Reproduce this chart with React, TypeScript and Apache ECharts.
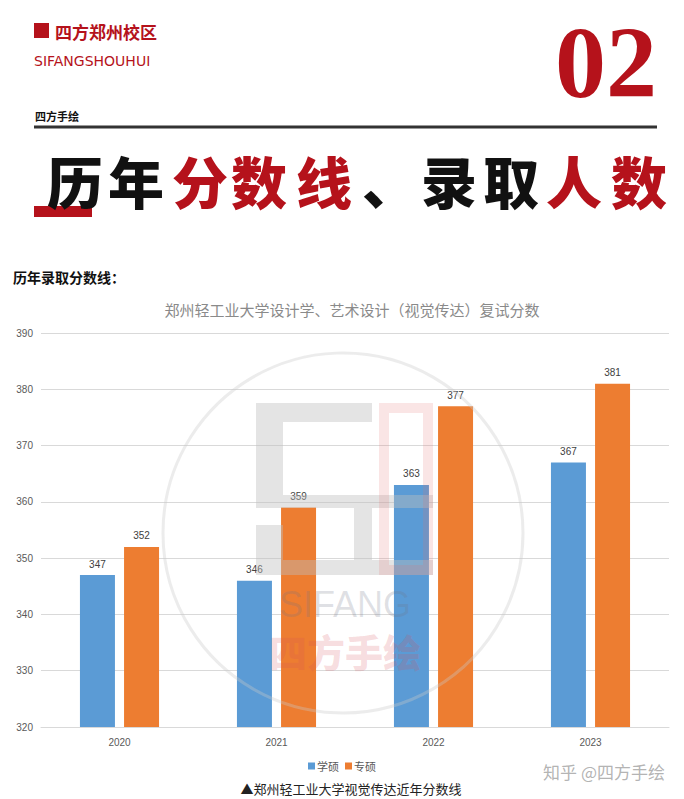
import React, { useEffect, useRef } from "react";
import * as echarts from "echarts";

const years = ["2020", "2021", "2022", "2023"];
const academic = [347, 346, 363, 367];
const professional = [352, 359, 377, 381];
const seriesNames = ["学硕", "专硕"];
const chartTitle = "郑州轻工业大学设计学、艺术设计（视觉传达）复试分数";
const caption = "▲郑州轻工业大学视觉传达近年分数线";
const sectionLabel = "历年录取分数线：";
const headline = [
  { ch: "历", red: false },
  { ch: "年", red: false },
  { ch: "分", red: true },
  { ch: "数", red: true },
  { ch: "线", red: true },
  { ch: "、", red: false },
  { ch: "录", red: false },
  { ch: "取", red: false },
  { ch: "人", red: true },
  { ch: "数", red: true },
];
const headlineX = [75, 136, 200, 259, 324, 390, 449, 511, 574, 639];

const RED = "#b5121b";
const CJK = "'Noto Sans CJK SC', 'Noto Sans', sans-serif";

export default function App() {
  const ref = useRef<HTMLDivElement>(null);
  useEffect(() => {
    document.body.style.margin = "0";
    const chart = echarts.init(ref.current!, null, { renderer: "svg" });
    const wmGray = "rgba(190,190,190,0.42)";
    const wmPink = "rgba(225,110,110,0.18)";
    const graphic: any[] = [
      // header
      { type: "rect", shape: { x: 34, y: 23, width: 15, height: 15 }, style: { fill: RED } },
      { type: "text", x: 55, y: 31, style: { text: "四方郑州校区", fill: RED, font: `bold 17px ${CJK}`, textVerticalAlign: "middle" } },
      { type: "text", x: 34, y: 61, style: { text: "SIFANGSHOUHUI", fill: RED, font: "14px 'DejaVu Sans', sans-serif", textVerticalAlign: "middle" } },
      { type: "text", x: 657, y: 62, style: { text: "02", fill: RED, font: "bold 102px 'Liberation Serif', serif", textAlign: "right", textVerticalAlign: "middle" } },
      { type: "text", x: 35, y: 116, style: { text: "四方手绘", fill: "#111", font: `bold 11px ${CJK}`, textVerticalAlign: "middle" } },
      { type: "rect", shape: { x: 34, y: 125.5, width: 623, height: 3 }, style: { fill: "#333" } },
      { type: "rect", shape: { x: 34, y: 206, width: 58, height: 11 }, style: { fill: RED } },
      ...headline.map((h, i) => ({
        type: "text",
        x: headlineX[i],
        y: 179,
        style: {
          text: h.ch,
          fill: h.red ? RED : "#111",
          font: `900 56px ${CJK}`,
          textAlign: "center",
          textVerticalAlign: "middle",
        },
      })),
      { type: "text", x: 13, y: 277, style: { text: sectionLabel, fill: "#111", font: `bold 14px ${CJK}`, textVerticalAlign: "middle" } },
      // watermark
      { type: "circle", z: 100, shape: { cx: 343, cy: 533, r: 180 }, style: { fill: "none", stroke: "rgba(200,200,200,0.35)", lineWidth: 3 } },
      { type: "rect", z: 100, shape: { x: 256, y: 403, width: 116, height: 19 }, style: { fill: wmGray } },
      { type: "rect", z: 100, shape: { x: 256, y: 422, width: 27, height: 73 }, style: { fill: wmGray } },
      { type: "rect", z: 100, shape: { x: 256, y: 495, width: 177, height: 13 }, style: { fill: wmGray } },
      { type: "rect", z: 100, shape: { x: 354, y: 508, width: 18, height: 52 }, style: { fill: wmGray } },
      { type: "rect", z: 100, shape: { x: 256, y: 525, width: 27, height: 35 }, style: { fill: wmGray } },
      { type: "rect", z: 100, shape: { x: 256, y: 560, width: 177, height: 15 }, style: { fill: wmGray } },
      { type: "rect", z: 100, shape: { x: 384, y: 408, width: 44, height: 162 }, style: { fill: "none", stroke: wmPink, lineWidth: 10 } },
      { type: "text", z: 100, x: 345, y: 604, style: { text: "SIFANG", fill: "rgba(110,115,135,0.22)", font: "36px 'Liberation Sans', sans-serif", textAlign: "center", textVerticalAlign: "middle" } },
      { type: "text", z: 100, x: 345, y: 650, style: { text: "四方手绘", fill: "rgba(215,80,90,0.2)", font: `900 38px ${CJK}`, textAlign: "center", textVerticalAlign: "middle" } },
      // footer
      { type: "text", x: 351, y: 788, style: { text: caption, fill: "#222", font: `13px ${CJK}`, textAlign: "center", textVerticalAlign: "middle" } },
      { type: "text", x: 665, y: 771, style: { text: "知乎 @四方手绘", fill: "rgba(160,160,160,0.8)", font: `17px ${CJK}`, textAlign: "right", textVerticalAlign: "middle" } },
    ];
    chart.setOption({
      animation: false,
      backgroundColor: "#fff",
      title: {
        text: chartTitle,
        left: 347,
        textAlign: "center",
        top: 297,
        textStyle: { color: "#8a8a8a", fontSize: 15, fontWeight: "normal", fontFamily: CJK },
      },
      legend: {
        data: seriesNames,
        left: "center",
        top: 760,
        padding: 0,
        icon: "rect",
        itemWidth: 7,
        itemHeight: 7,
        itemGap: 6,
        textStyle: { color: "#595959", fontSize: 11, fontFamily: CJK, padding: [0, 0, 0, -3], lineHeight: 12 },
      },
      grid: { left: 41, right: 15, top: 333, bottom: 72, containLabel: false },
      xAxis: {
        type: "category",
        data: years,
        axisLine: { lineStyle: { color: "#d9d9d9" } },
        axisTick: { show: false },
        axisLabel: { color: "#595959", fontSize: 10, margin: 10 },
      },
      yAxis: {
        type: "value",
        min: 320,
        max: 390,
        interval: 10,
        axisLine: { show: false },
        axisTick: { show: false },
        axisLabel: { color: "#595959", fontSize: 10, margin: 8, align: "right" },
        splitLine: { lineStyle: { color: "#d9d9d9" } },
      },
      series: [
        {
          name: seriesNames[0],
          type: "bar",
          data: academic,
          barWidth: 35,
          barGap: "26%",
          itemStyle: { color: "#5b9bd5" },
          label: { show: true, position: "top", distance: 6, color: "#404040", fontSize: 10 },
        },
        {
          name: seriesNames[1],
          type: "bar",
          data: professional,
          barWidth: 35,
          barGap: "26%",
          itemStyle: { color: "#ed7d31" },
          label: { show: true, position: "top", distance: 6, color: "#404040", fontSize: 10 },
        },
      ],
      graphic,
    });
    return () => chart.dispose();
  }, []);
  return <div ref={ref} style={{ width: 684, height: 799 }} />;
}
